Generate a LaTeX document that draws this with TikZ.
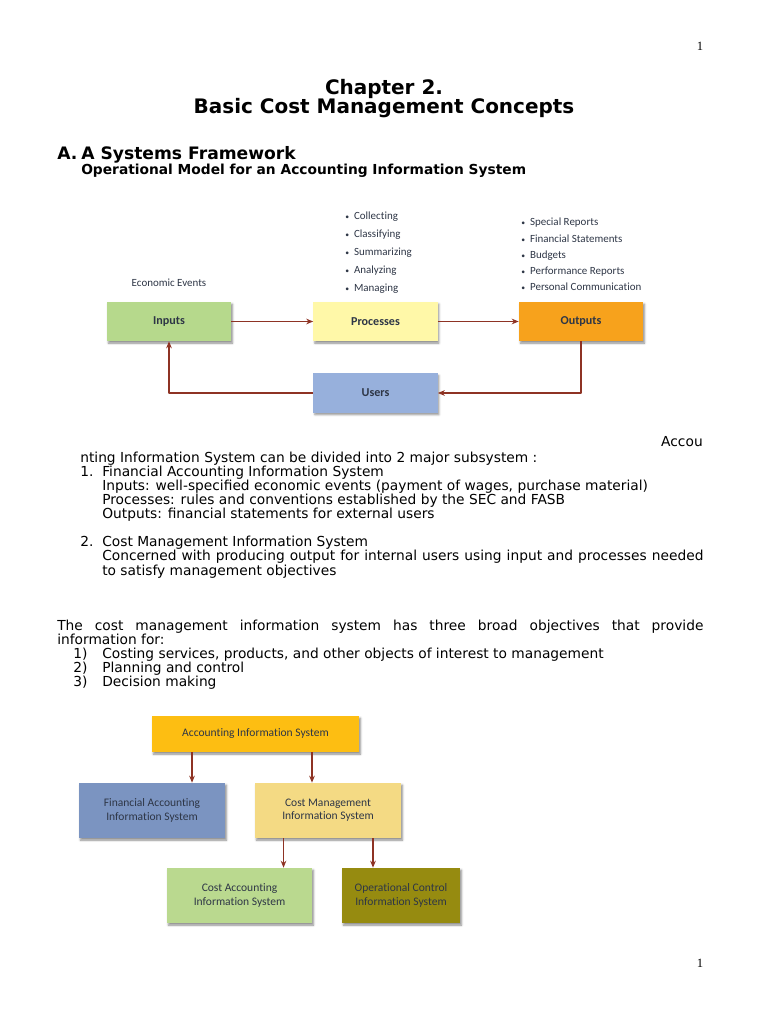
\documentclass[tikz,border=0pt]{standalone}
\usepackage{fontspec}
\setmainfont{DejaVu Sans}
\newfontfamily\figfont[Ligatures=NoCommon]{Carlito}
\newfontfamily\numfont{Liberation Serif}
\usetikzlibrary{arrows.meta,calc,shadows.blur}

\definecolor{inputgreen}{HTML}{B6D98C}
\definecolor{procyellow}{HTML}{FFF8A8}
\definecolor{outorange}{HTML}{F7A21C}
\definecolor{userblue}{HTML}{97B0DC}
\definecolor{aisorange}{HTML}{FDBE12}
\definecolor{fablue}{HTML}{7B94C1}
\definecolor{cmyellow}{HTML}{F4DA84}
\definecolor{cagreen}{HTML}{BAD98F}
\definecolor{ocolive}{HTML}{968B10}
\definecolor{arrowred}{HTML}{8E3324}
\definecolor{figtext}{HTML}{2E3646}

\newcommand\bodyfont{\fontsize{9.8}{10}\selectfont}
\newcommand\listdot{\makebox[0.22cm][l]{\scalebox{0.7}{\textbullet}}}

\begin{document}
\begin{tikzpicture}[x=0.025cm,y=-0.025cm,>={Stealth[length=5pt,width=4pt]},line join=round,
	body/.style={anchor=mid west,inner sep=0pt,font=\bodyfont},
	title/.style={anchor=base,inner sep=0pt,font=\fontsize{14.2}{16}\selectfont\bfseries},
	heada/.style={anchor=base west,inner sep=0pt,font=\fontsize{12.2}{14}\selectfont\bfseries},
	pagenum/.style={anchor=base,inner sep=0pt,font=\numfont\fontsize{9}{10}\selectfont},
	figlabel/.style={inner sep=0pt,text=figtext,font=\figfont\fontsize{7.8}{9}\selectfont},
	listitem/.style={figlabel,anchor=mid west},
	flowbox/.style={fill=#1,minimum width=3.1cm,minimum height=0.975cm,inner sep=0pt,text=figtext,
		font=\figfont\fontsize{8.6}{9}\selectfont\bfseries,
		blur shadow={shadow xshift=1pt,shadow yshift=-1.5pt,shadow blur radius=1.5pt,shadow opacity=45}},
	orgbox/.style={fill=#1,minimum height=1.375cm,inner sep=0pt,align=center,text=figtext,
		font=\figfont\fontsize{8.2}{9.4}\selectfont,
		blur shadow={shadow xshift=1pt,shadow yshift=-1.5pt,shadow blur radius=1.5pt,shadow opacity=45}},
	arr/.style={->,draw=arrowred,line width=1pt}]
	\useasboundingbox (0,0) rectangle (768,1024);
	% page head
	\node[pagenum] (pntop) at (700,51) {1};
	\node[title] (chap) at (384,95) {Chapter 2.};
	\node[title] (chapname) at (384,114) {Basic Cost Management Concepts};
	\node[heada] (seca) at (57,160) {A.};
	\node[heada] (secaname) at (81,160) {A Systems Framework};
	\node[anchor=base west,inner sep=0pt,font=\bodyfont\bfseries] (opmodel) at (81,175) {Operational Model for an Accounting Information System};
	% operational model
	\node[figlabel] (econ) at (169,283) {Economic Events};
	\node[flowbox=inputgreen] (inputs) at (169,321.5) {Inputs};
	\node[flowbox=procyellow] (processes) at (375.5,321.5) {Processes};
	\node[flowbox=outorange] (outputs) at (581,321.5) {Outputs};
	\node[flowbox=userblue] (users) at (375.5,393) {Users};
	\draw[arr] (inputs) -- (processes);
	\draw[arr] (processes) -- (outputs);
	\draw[arr] (outputs.south) |- (users.east);
	\draw[arr] (users.west) -| (inputs.south);
	\foreach \act [count=\i] in {Collecting,Classifying,Summarizing,Analyzing,Managing}
		\node[listitem] (proc\i) at (345,{216+18*(\i-1)}) {\listdot\act};
	\foreach \rep [count=\i] in {Special Reports,Financial Statements,Budgets,Performance Reports,Personal Communication}
		\node[listitem] (out\i) at (521,{222+16.25*(\i-1)}) {\listdot\rep};
	% subsystems text
	\node[body,anchor=mid east] (accou) at (703,443) {Accou};
	\node[body] (subs) at (80,459) {nting Information System can be divided into 2 major subsystem :};
	\node[body] (numa) at (80,473) {1.};
	\node[body] (fais-t) at (102,473) {Financial Accounting Information System};
	\node[body] (fais-in) at (102,487) {Inputs: well-specified economic events (payment of wages, purchase material)};
	\node[body] (fais-pr) at (102,501) {Processes: rules and conventions established by the SEC and FASB};
	\node[body] (fais-out) at (102,515) {Outputs: financial statements for external users};
	\node[body] (numb) at (80,543) {2.};
	\node[body] (cmis-t) at (102,543) {Cost Management Information System};
	\node[body] (cmis-a) at (102,557) {\makebox[15.025cm][s]{Concerned with producing output for internal users using input and processes needed}};
	\node[body] (cmis-b) at (102,572) {to satisfy management objectives};
	\node[body] (obj-a) at (57,627) {\makebox[16.15cm][s]{The cost management information system has three broad objectives that provide}};
	\node[body] (obj-b) at (57,641) {information for:};
	\foreach \obj [count=\i] in {{Costing services, products, and other objects of interest to management},{Planning and control},{Decision making}}
	{
		\node[body] (objn\i) at (73,{655+14*(\i-1)}) {\i)};
		\node[body] (objt\i) at (102,{655+14*(\i-1)}) {\obj};
	}
	% subsystems chart
	\node[orgbox=aisorange,minimum width=5.175cm,minimum height=0.9cm] (ais) at (255.5,734) {Accounting Information System};
	\node[orgbox=fablue,minimum width=3.65cm] (fais) at (152,810.5) {Financial Accounting\\Information System};
	\node[orgbox=cmyellow,minimum width=3.65cm] (cmis) at (328,810.5) {Cost Management\\Information System};
	\node[orgbox=cagreen,minimum width=3.625cm] (cais) at (239.5,895.5) {Cost Accounting\\Information System};
	\node[orgbox=ocolive,minimum width=2.95cm] (ocis) at (401,895.5) {Operational Control\\Information System};
	\draw[arr] ($(fais.north |- ais.south)+(1cm,0)$) -- ($(fais.north)+(1cm,0)$);
	\draw[arr] ($(cmis.north |- ais.south)+(-0.4cm,0)$) -- ($(cmis.north)+(-0.4cm,0)$);
	\draw[arr] ($(cais.north |- cmis.south)+(1.1cm,0)$) -- ($(cais.north)+(1.1cm,0)$);
	\draw[arr] ($(ocis.north |- cmis.south)+(-0.7cm,0)$) -- ($(ocis.north)+(-0.7cm,0)$);
	\node[pagenum] (pnbottom) at (700,967) {1};
\end{tikzpicture}
\end{document}
